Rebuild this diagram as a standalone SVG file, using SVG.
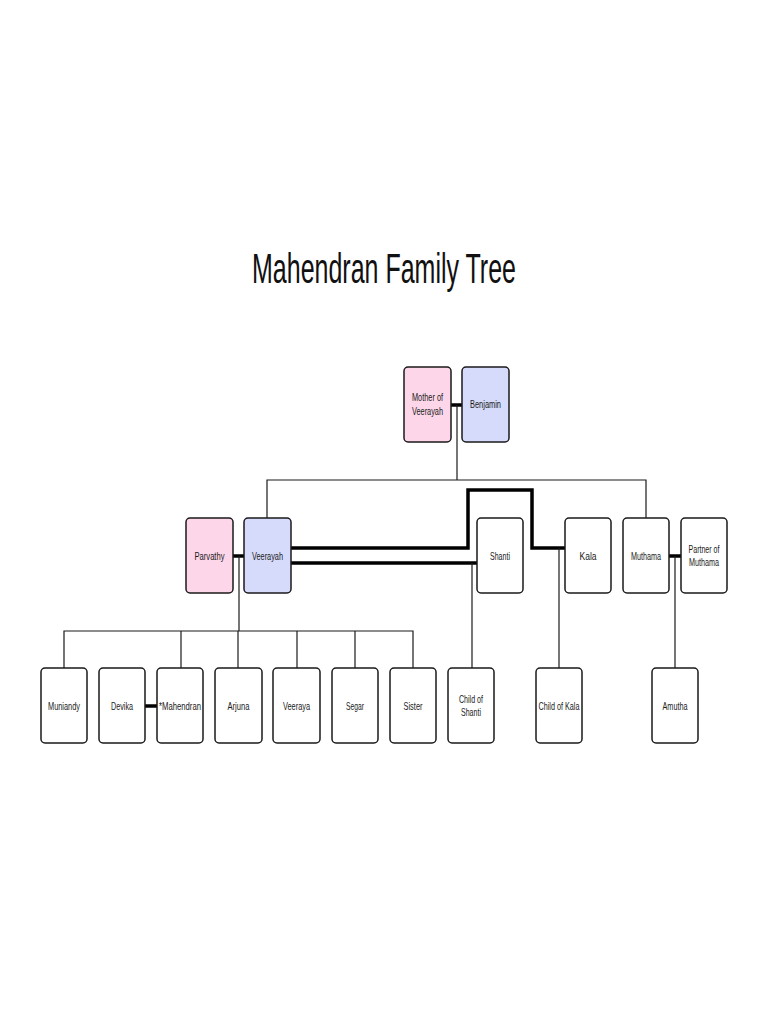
<svg xmlns="http://www.w3.org/2000/svg" width="768" height="1024" viewBox="0 0 768 1024">
<style>
.bg{fill:#ffffff}
.box{fill:#ffffff;stroke:#1a1a1a;stroke-width:1.5}
.f{fill:#fdd6ea}
.m{fill:#d6dbfc}
.t{font-family:"Liberation Sans Narrow","Liberation Sans",Arial,sans-serif;font-size:10.5px;fill:#1a1a1a;text-anchor:middle}
.title{font-family:"Liberation Sans Narrow","Liberation Sans",Arial,sans-serif;font-size:43px;fill:#111;text-anchor:middle}
.thin{fill:none;stroke:#1a1a1a;stroke-width:1.2}
.thick{fill:none;stroke:#000;stroke-width:3.5}
</style>
<rect class="bg" x="0" y="0" width="768" height="1024"/>
<text class="title" x="384" y="283" textLength="264" lengthAdjust="spacingAndGlyphs">Mahendran Family Tree</text>
<g id="connectors">
<path class="thick" d="M451 405H462"/>
<path class="thin" d="M457 405V480"/>
<path class="thin" d="M267 518V480H646V518"/>
<path class="thick" d="M233 556H244"/>
<path class="thin" d="M239 556V631"/>
<path class="thick" d="M291 548H468V490H532V548H565"/>
<path class="thick" d="M291 563H477"/>
<path class="thin" d="M472 563V668"/>
<path class="thin" d="M559 548V668"/>
<path class="thick" d="M669 556H681"/>
<path class="thin" d="M675 556V668"/>
<path class="thin" d="M64 668V631H413V668"/>
<path class="thin" d="M181 631V668"/>
<path class="thin" d="M238 631V668"/>
<path class="thin" d="M297 631V668"/>
<path class="thin" d="M355 631V668"/>
<path class="thick" d="M145 706H157"/>
</g>
<g id="mother_of_veerayah"><rect class="box f" x="404" y="367" width="47" height="75" rx="4"/><text class="t" x="427.5" y="401" textLength="31" lengthAdjust="spacingAndGlyphs">Mother of</text><text class="t" x="427.5" y="415" textLength="31" lengthAdjust="spacingAndGlyphs">Veerayah</text></g>
<g id="benjamin"><rect class="box m" x="462" y="367" width="47" height="75" rx="4"/><text class="t" x="485.5" y="408" textLength="31" lengthAdjust="spacingAndGlyphs">Benjamin</text></g>
<g id="parvathy"><rect class="box f" x="186" y="518" width="47" height="75" rx="4"/><text class="t" x="209.5" y="560" textLength="30" lengthAdjust="spacingAndGlyphs">Parvathy</text></g>
<g id="veerayah"><rect class="box m" x="244" y="518" width="47" height="75" rx="4"/><text class="t" x="267.5" y="560" textLength="31" lengthAdjust="spacingAndGlyphs">Veerayah</text></g>
<g id="shanti"><rect class="box" x="477" y="518" width="46" height="75" rx="4"/><text class="t" x="500" y="560" textLength="20" lengthAdjust="spacingAndGlyphs">Shanti</text></g>
<g id="kala"><rect class="box" x="565" y="518" width="46" height="75" rx="4"/><text class="t" x="588" y="560" textLength="17" lengthAdjust="spacingAndGlyphs">Kala</text></g>
<g id="muthama"><rect class="box" x="623" y="518" width="46" height="75" rx="4"/><text class="t" x="646" y="560" textLength="30" lengthAdjust="spacingAndGlyphs">Muthama</text></g>
<g id="partner_of_muthama"><rect class="box" x="681" y="518" width="46" height="75" rx="4"/><text class="t" x="704" y="553" textLength="31" lengthAdjust="spacingAndGlyphs">Partner of</text><text class="t" x="704" y="566" textLength="30" lengthAdjust="spacingAndGlyphs">Muthama</text></g>
<g id="muniandy"><rect class="box" x="41" y="668" width="46" height="75" rx="4"/><text class="t" x="64" y="710" textLength="32" lengthAdjust="spacingAndGlyphs">Muniandy</text></g>
<g id="devika"><rect class="box" x="99" y="668" width="46" height="75" rx="4"/><text class="t" x="122" y="710" textLength="22" lengthAdjust="spacingAndGlyphs">Devika</text></g>
<g id="mahendran"><rect class="box" x="157" y="668" width="46" height="75" rx="4"/><text class="t" x="180" y="710" textLength="42" lengthAdjust="spacingAndGlyphs">*Mahendran</text></g>
<g id="arjuna"><rect class="box" x="215" y="668" width="47" height="75" rx="4"/><text class="t" x="238.5" y="710" textLength="22" lengthAdjust="spacingAndGlyphs">Arjuna</text></g>
<g id="veeraya"><rect class="box" x="273" y="668" width="47" height="75" rx="4"/><text class="t" x="296.5" y="710" textLength="27" lengthAdjust="spacingAndGlyphs">Veeraya</text></g>
<g id="segar"><rect class="box" x="332" y="668" width="46" height="75" rx="4"/><text class="t" x="355" y="710" textLength="18" lengthAdjust="spacingAndGlyphs">Segar</text></g>
<g id="sister"><rect class="box" x="390" y="668" width="46" height="75" rx="4"/><text class="t" x="413" y="710" textLength="19" lengthAdjust="spacingAndGlyphs">Sister</text></g>
<g id="child_of_shanti"><rect class="box" x="448" y="668" width="46" height="75" rx="4"/><text class="t" x="471" y="703" textLength="24" lengthAdjust="spacingAndGlyphs">Child of</text><text class="t" x="471" y="716" textLength="20" lengthAdjust="spacingAndGlyphs">Shanti</text></g>
<g id="child_of_kala"><rect class="box" x="536" y="668" width="46" height="75" rx="4"/><text class="t" x="559" y="710" textLength="41" lengthAdjust="spacingAndGlyphs">Child of Kala</text></g>
<g id="amutha"><rect class="box" x="652" y="668" width="46" height="75" rx="4"/><text class="t" x="675" y="710" textLength="25" lengthAdjust="spacingAndGlyphs">Amutha</text></g>
</svg>
